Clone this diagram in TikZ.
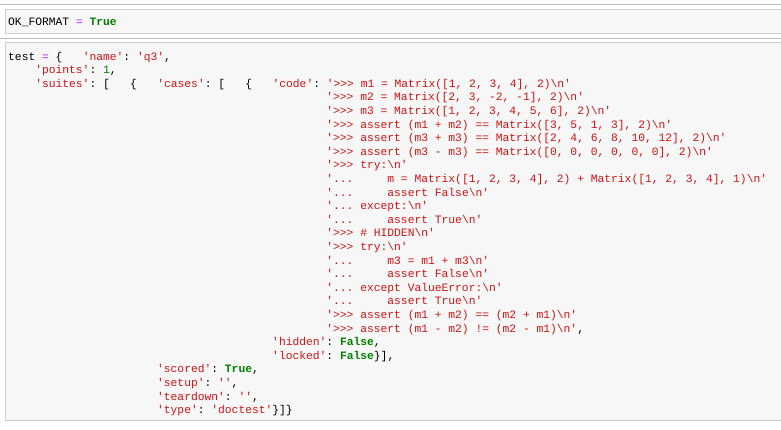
\documentclass[tikz,border=0pt]{standalone}
\usepackage{fontspec}
\newfontfamily\mono{Liberation Mono}
\definecolor{strc}{RGB}{204,20,20}
\definecolor{kwc}{RGB}{0,128,0}
\definecolor{opc}{RGB}{170,34,255}
\definecolor{cellbg}{RGB}{247,247,247}
\definecolor{cellbd}{RGB}{207,207,207}
\newcommand\Sx[1]{\textcolor{strc}{#1}}
\newcommand\Kx[1]{\textcolor{kwc}{\bfseries #1}}
\newcommand\Nx[1]{\textcolor{kwc}{#1}}
\newcommand\Ex{\textcolor{opc}{=}}
\newcommand\BS{\textbackslash n}
\begin{document}
\begin{tikzpicture}[x=1pt,y=-1pt,
  cell/.style={fill=cellbg,draw=cellbd,line width=0.8pt},
  sep/.style={draw=cellbd!80!gray,line width=1pt},
  codeln/.style={anchor=base west,inner sep=0pt,font=\mono\fontsize{11.3}{13}\selectfont}]
\useasboundingbox (0,0) rectangle (781,429);
\fill[white] (0,0) rectangle (781,429);
\draw[sep] (0,4) -- (781,4);
\draw[sep] (0,38) -- (781,38);
\draw[cell] (5,9) rectangle (790,33);
\draw[cell] (5,42) rectangle (790,420);
\node[codeln] (ok) at (8,25) {OK\_FORMAT~\Ex~\Kx{True}};
\def\cw{6.77}
\newcommand\Lx[4]{\node[codeln] (#1) at ({8+#2*\cw},{60+13.6*#3}) {#4};}
\Lx{l0}{0}{0}{test~\Ex~\{~~~\Sx{'name'}:~\Sx{'q3'},}
\Lx{l1}{4}{1}{\Sx{'points'}:~\Nx{1},}
\Lx{l2}{4}{2}{\Sx{'suites'}:~[~~~\{~~~\Sx{'cases'}:~[~~~\{~~~\Sx{'code'}:~\Sx{'>>>~m1~=~Matrix([1,~2,~3,~4],~2)\BS'}}
\Lx{l3}{47}{3}{\Sx{'>>>~m2~=~Matrix([2,~3,~-2,~-1],~2)\BS'}}
\Lx{l4}{47}{4}{\Sx{'>>>~m3~=~Matrix([1,~2,~3,~4,~5,~6],~2)\BS'}}
\Lx{l5}{47}{5}{\Sx{'>>>~assert~(m1~+~m2)~==~Matrix([3,~5,~1,~3],~2)\BS'}}
\Lx{l6}{47}{6}{\Sx{'>>>~assert~(m3~+~m3)~==~Matrix([2,~4,~6,~8,~10,~12],~2)\BS'}}
\Lx{l7}{47}{7}{\Sx{'>>>~assert~(m3~-~m3)~==~Matrix([0,~0,~0,~0,~0,~0],~2)\BS'}}
\Lx{l8}{47}{8}{\Sx{'>>>~try:\BS'}}
\Lx{l9}{47}{9}{\Sx{'...~~~~~m~=~Matrix([1,~2,~3,~4],~2)~+~Matrix([1,~2,~3,~4],~1)\BS'}}
\Lx{l10}{47}{10}{\Sx{'...~~~~~assert~False\BS'}}
\Lx{l11}{47}{11}{\Sx{'...~except:\BS'}}
\Lx{l12}{47}{12}{\Sx{'...~~~~~assert~True\BS'}}
\Lx{l13}{47}{13}{\Sx{'>>>~\#~HIDDEN\BS'}}
\Lx{l14}{47}{14}{\Sx{'>>>~try:\BS'}}
\Lx{l15}{47}{15}{\Sx{'...~~~~~m3~=~m1~+~m3\BS'}}
\Lx{l16}{47}{16}{\Sx{'...~~~~~assert~False\BS'}}
\Lx{l17}{47}{17}{\Sx{'...~except~ValueError:\BS'}}
\Lx{l18}{47}{18}{\Sx{'...~~~~~assert~True\BS'}}
\Lx{l19}{47}{19}{\Sx{'>>>~assert~(m1~+~m2)~==~(m2~+~m1)\BS'}}
\Lx{l20}{47}{20}{\Sx{'>>>~assert~(m1~-~m2)~!=~(m2~-~m1)\BS'},}
\Lx{l21}{39}{21}{\Sx{'hidden'}:~\Kx{False},}
\Lx{l22}{39}{22}{\Sx{'locked'}:~\Kx{False}\}],}
\Lx{l23}{22}{23}{\Sx{'scored'}:~\Kx{True},}
\Lx{l24}{22}{24}{\Sx{'setup'}:~\Sx{''},}
\Lx{l25}{22}{25}{\Sx{'teardown'}:~\Sx{''},}
\Lx{l26}{22}{26}{\Sx{'type'}:~\Sx{'doctest'}\}]\}}
\end{tikzpicture}
\end{document}
